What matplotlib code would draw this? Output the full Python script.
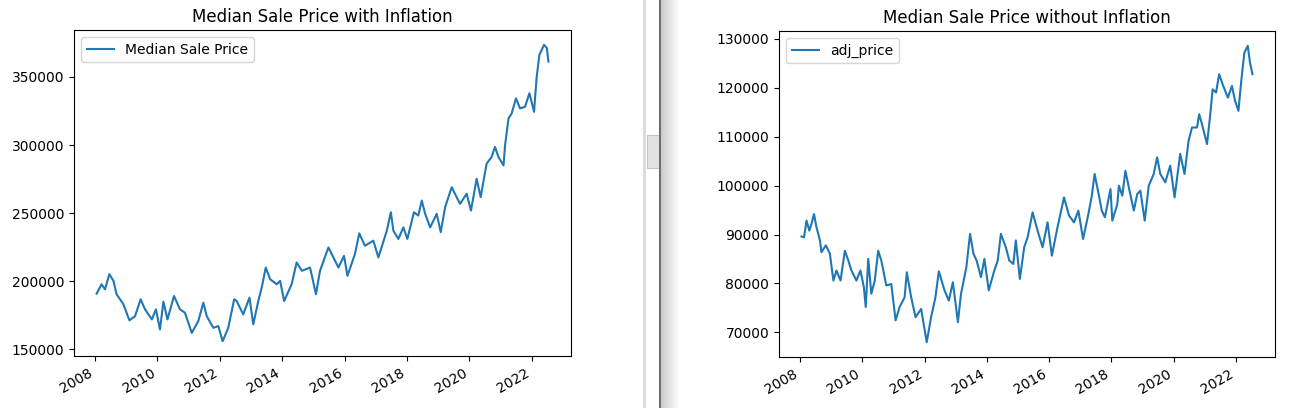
from datetime import datetime, timedelta

import matplotlib
matplotlib.use("Agg")
import matplotlib.pyplot as plt
from matplotlib.patches import Rectangle

years_nom = [
    2008.05, 2008.21, 2008.32, 2008.46, 2008.59, 2008.69, 2008.91, 2009.10,
    2009.28, 2009.46, 2009.60, 2009.82, 2009.95, 2010.08, 2010.19, 2010.32,
    2010.53, 2010.72, 2010.88, 2011.10, 2011.31, 2011.47, 2011.58, 2011.79,
    2011.95, 2012.09, 2012.27, 2012.46, 2012.54, 2012.75, 2012.95, 2013.07,
    2013.23, 2013.34, 2013.47, 2013.61, 2013.82, 2013.93, 2014.06, 2014.30,
    2014.46, 2014.63, 2014.89, 2015.08, 2015.21, 2015.48, 2015.80, 2015.98,
    2016.09, 2016.33, 2016.47, 2016.65, 2016.92, 2017.08, 2017.35, 2017.48,
    2017.56, 2017.72, 2017.88, 2018.01, 2018.22, 2018.36, 2018.47, 2018.58,
    2018.74, 2018.95, 2019.08, 2019.22, 2019.43, 2019.59, 2019.70, 2019.91,
    2020.05, 2020.23, 2020.36, 2020.55, 2020.71, 2020.82, 2020.93, 2021.09,
    2021.14, 2021.25, 2021.35, 2021.49, 2021.62, 2021.78, 2021.92, 2022.07,
    2022.15, 2022.24, 2022.39, 2022.48, 2022.53,
]
median_price = [
    190800, 197700, 194000, 205100, 200200, 190400, 183000, 171200,
    174300, 186700, 179300, 171900, 179300, 164500, 184900, 171900,
    189100, 179300, 176800, 162000, 170700, 184200, 174300, 165700,
    167000, 155900, 165700, 186700, 185400, 175600, 187900, 168200,
    185400, 195200, 210000, 201400, 197700, 200200, 185400, 197700,
    213700, 207600, 210000, 190400, 207600, 224800, 210000, 218600,
    203900, 219900, 235100, 226000, 229700, 217400, 237100, 250600,
    237100, 231000, 239500, 231000, 250600, 248200, 259200, 249400,
    239500, 249400, 236000, 254300, 269000, 261700, 256800, 264200,
    251800, 275200, 261700, 286300, 291200, 298600, 291200, 285000,
    299800, 319500, 323100, 334300, 326900, 328100, 338000, 324400,
    349000, 366200, 373600, 371200, 361300,
]

years_adj = [
    2008.05, 2008.13, 2008.21, 2008.30, 2008.37, 2008.45, 2008.53, 2008.64,
    2008.69, 2008.83, 2008.96, 2009.07, 2009.17, 2009.30, 2009.44, 2009.55,
    2009.65, 2009.81, 2009.94, 2010.05, 2010.11, 2010.19, 2010.29, 2010.40,
    2010.51, 2010.61, 2010.77, 2010.93, 2011.07, 2011.20, 2011.36, 2011.43,
    2011.57, 2011.71, 2011.89, 2012.07, 2012.21, 2012.35, 2012.46, 2012.64,
    2012.78, 2012.91, 2013.07, 2013.17, 2013.34, 2013.46, 2013.57, 2013.67,
    2013.81, 2013.92, 2014.06, 2014.24, 2014.35, 2014.45, 2014.61, 2014.72,
    2014.85, 2014.93, 2015.06, 2015.20, 2015.31, 2015.47, 2015.63, 2015.79,
    2015.95, 2016.09, 2016.27, 2016.48, 2016.64, 2016.80, 2016.94, 2017.09,
    2017.26, 2017.37, 2017.46, 2017.60, 2017.69, 2017.79, 2017.97, 2018.03,
    2018.19, 2018.24, 2018.35, 2018.45, 2018.56, 2018.72, 2018.83, 2018.93,
    2019.07, 2019.20, 2019.36, 2019.47, 2019.57, 2019.73, 2019.89, 2020.03,
    2020.21, 2020.35, 2020.48, 2020.59, 2020.75, 2020.82, 2020.91, 2021.07,
    2021.17, 2021.25, 2021.36, 2021.46, 2021.57, 2021.74, 2021.87, 2021.97,
    2022.08, 2022.17, 2022.27, 2022.38, 2022.45, 2022.53,
]
adj_price = [
    89600, 89450, 92860, 90800, 92200, 94200, 91500, 88800,
    86400, 87800, 86100, 80600, 82650, 80600, 86700, 84700,
    82650, 80600, 82650, 79250, 75200, 85050, 77900, 80600,
    86700, 84700, 79600, 79900, 72450, 75200, 77200, 82300,
    77200, 73100, 74800, 68000, 73100, 77200, 82500, 78600,
    76500, 80270, 72100, 77900, 83300, 90150, 86050, 84700,
    81300, 85050, 78600, 82650, 84700, 90150, 87400, 84700,
    84000, 88800, 80950, 87400, 89450, 94550, 90800, 87400,
    92500, 85700, 91500, 97600, 93900, 92500, 94900, 89100,
    94200, 97950, 102400, 97950, 94900, 93550, 99300, 92850,
    96250, 100000, 97950, 103050, 99650, 94900, 98300, 98980,
    92850, 100000, 102400, 105800, 102400, 100700, 104100, 97600,
    106500, 102400, 109200, 111900, 111900, 114600, 112600, 108500,
    114300, 119700, 119050, 122800, 120750, 118000, 120400, 117350,
    115300, 121400, 127200, 128600, 125200, 122800,
]


def to_date(y):
    return datetime(int(y), 1, 1) + timedelta(days=(y - int(y)) * 365.25)


W, H = 1316, 408
fig = plt.figure(figsize=(W / 100, H / 100), dpi=100)


def fx(px):
    return px / W


def fy(py):
    return 1 - py / H


ax1 = fig.add_axes([fx(74), fy(356), fx(571 - 74), (356 - 30) / H])
ax1.plot([to_date(y) for y in years_nom], median_price, label="Median Sale Price")
ax1.set_title("Median Sale Price with Inflation", fontsize=12)
ax1.legend(loc="upper left")

ax2 = fig.add_axes([fx(779), fy(357), fx(1275 - 779), (357 - 31) / H])
ax2.plot([to_date(y) for y in years_adj], adj_price, label="adj_price")
ax2.set_title("Median Sale Price without Inflation", fontsize=12)
ax2.legend(loc="upper left")

for ax in (ax1, ax2):
    for lab in ax.get_xticklabels():
        lab.set_rotation(30)
        lab.set_ha("right")

# window divider between the two screenshots
fig.add_artist(Rectangle((fx(643), 0), fx(3), 1, transform=fig.transFigure,
                         facecolor="#dcdcdc", edgecolor="none"))
fig.add_artist(Rectangle((fx(647), fy(168)), fx(12), 33 / H, transform=fig.transFigure,
                         facecolor="#e2e2e2", edgecolor="#c4c4c4", lw=0.8))
fig.add_artist(Rectangle((fx(659), 0), fx(2), 1, transform=fig.transFigure,
                         facecolor="#6e6e6e", edgecolor="none"))
steps = 18
for i in range(steps):
    g = 0.80 + 0.20 * i / steps
    fig.add_artist(Rectangle((fx(661 + i), 0), fx(1.05), 1, transform=fig.transFigure,
                             facecolor=(g, g, g), edgecolor="none"))

fig.savefig("out.png", dpi=100)
